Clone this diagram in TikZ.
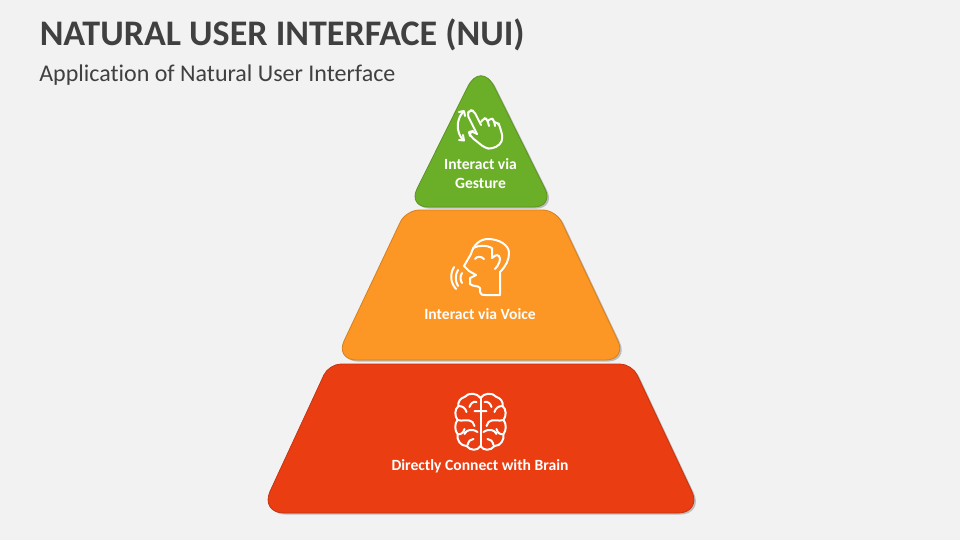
\documentclass[tikz,border=0pt]{standalone}
\usepackage{fontspec}
\setmainfont{Carlito}[Ligatures=CommonOff]
\usetikzlibrary{shadows}
\definecolor{pagegray}{HTML}{F2F2F2}
\definecolor{titlegray}{HTML}{404040}
\definecolor{nuigreen}{HTML}{6BAE27}
\definecolor{nuiorange}{HTML}{FC9624}
\definecolor{nuired}{HTML}{EA3D12}
\tikzset{
  tier/.style={line width=.6pt, general shadow={shadow xshift=1.5pt, shadow yshift=-1.2pt, fill=black, opacity=.22}},
  tierlabel/.style={text=white, font=\fontsize{11.7}{14.2}\selectfont\bfseries, align=center},
  icon/.style={draw=white, line width=1.5pt, line cap=round, line join=round},
}
\begin{document}
\begin{tikzpicture}[x=.75pt,y=-.75pt]
\useasboundingbox (0,0) rectangle (960,540);
\fill[pagegray] (0,0) rectangle (960,540);
\node[anchor=base west, inner sep=0pt, text=titlegray, font=\fontsize{27}{30}\selectfont\bfseries] (title) at (39.5,45.5){NATURAL USER INTERFACE (NUI)};
\node[anchor=base west, inner sep=0pt, text=titlegray, font=\fontsize{18}{22}\selectfont] (subtitle) at (39,81){Application of Natural User Interface};

\draw[tier, fill=nuired, draw=nuired!85!black, rounded corners=9pt] (329,364) -- (632,364) [rounded corners=18pt] -- (702,513) -- (260,513) [rounded corners=9pt] -- cycle;
\draw[tier, fill=nuiorange, draw=nuiorange!85!black, rounded corners=10pt] (406,210) -- (556,210) [rounded corners=16pt] -- (627,360) -- (335,360) [rounded corners=10pt] -- cycle;
\draw[tier, fill=nuigreen, draw=nuigreen!85!black, rounded corners=22.5pt] (481,60) [rounded corners=15pt] -- (554,207) -- (408,207) [rounded corners=22.5pt] -- cycle;

\node[tierlabel] (gesture) at (480.5,174){Interact via\\Gesture};
\node[tierlabel] (voice) at (480,314.5){Interact via Voice};
\node[tierlabel] (brain) at (480,466.5){Directly Connect with Brain};

% hand
\draw[icon, rounded corners=2.5pt] (477,134) -- (467,114) -- (470,110) -- (474,111) -- (481,125);
\draw[icon, rounded corners=2pt] (481,122) -- (484,118) -- (487,119) -- (489,126);
\draw[icon, rounded corners=2pt] (488,121) -- (491,118) -- (494,120) -- (495,126);
\draw[icon, rounded corners=3pt] (495,122) -- (498,122) -- (500,127) -- (503,138) -- (500,145) -- (491,149) -- (485,148) -- (470,136) -- (469,132) -- (473,131) -- (477,134);
\draw[icon] (463,112) .. controls (456,120) and (456,132) .. (463,140);
\draw[icon] (459,112) -- (464,111) -- (465,116);
\draw[icon] (459,140) -- (464,140.5) -- (463,135);

% head
\draw[icon] (500,294) -- (500,272) .. controls (506,266) and (509,260) .. (509,253)
  .. controls (509,245) and (499,239) .. (488,239) .. controls (479,239) and (473,246) .. (471,254)
  -- (464,266) -- (469,271) -- (476,275) -- (470,278) -- (470,284) .. controls (473,287) and (478,285) .. (480,288)
  -- (480,292) .. controls (481,295) and (482,295) .. (485,295) -- (500,295);
\draw[icon] (473,248) .. controls (479,245) and (487,245) .. (492,248) -- (492,258) .. controls (494,256) and (497,254) .. (499,256) .. controls (502,259) and (498,266) .. (495,269);
\draw[icon] (475,259) .. controls (477,256) and (481,256) .. (484,259);
\draw[icon] (462,273) .. controls (460,276) and (460,280) .. (462,283);
\draw[icon] (458,270) .. controls (455,275) and (455,281) .. (458,286);
\draw[icon] (454,267) .. controls (450,274) and (450,282) .. (456,289);

% brain
\draw[icon] (480.5,397) -- (480.5,447);
\foreach \side in {-1,1}{
  \begin{scope}[shift={(480.5,0)}, xscale=\side]
    \draw[icon] (0,398) .. controls (3,393) and (12,392) .. (16,397) .. controls (20,398) and (23,402) .. (22,406)
      .. controls (26,409) and (26,416) .. (23,420) .. controls (26,424) and (26,430) .. (23,434)
      .. controls (24,440) and (20,446) .. (14,446) .. controls (10,451) and (3,451) .. (0,446);
    \draw[icon] (0,411) -- (6,411) (4,402) .. controls (8,401) and (10,404) .. (11,407);
    \draw[icon] (22,406) .. controls (18,406) and (15,408) .. (14,412) (23,420) .. controls (18,422) and (13,418) .. (8,422) -- (6,426);
    \draw[icon] (3,432) .. controls (9,428) and (14,430) .. (16,434) (23,434) .. controls (20,435) and (17,433) .. (16,429);
    \draw[icon] (7,439) .. controls (10,439) and (12,441) .. (13,445);
  \end{scope}
}
\end{tikzpicture}
\end{document}
